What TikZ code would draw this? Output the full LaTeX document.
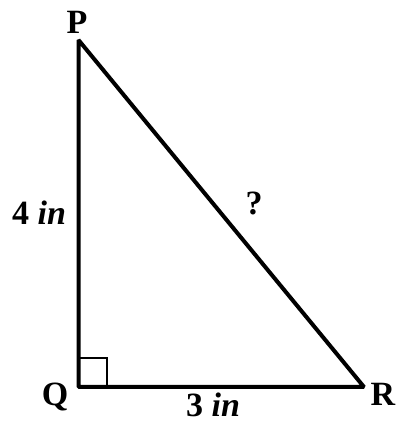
\documentclass[tikz,border=0pt]{standalone}
\usepackage{fontspec}
\setmainfont{Liberation Serif}
\begin{document}
\begin{tikzpicture}[x=1pt,y=1pt,
  lbl/.style={font=\fontsize{34}{34}\selectfont\bfseries, inner sep=0pt, anchor=base},
  side/.style={line width=4pt, line join=bevel},
  ra/.style={line width=2pt}]
\useasboundingbox (0,0) rectangle (408,443);
\coordinate (P) at (78.5,403);
\coordinate (Q) at (78.5,56);
\coordinate (R) at (364,56);
\coordinate (S) at (107,84.5);
\draw[ra] (Q) rectangle (S);
\draw[side] (P) -- (Q) -- (R) -- cycle;
\node[lbl] (lP) at (77,409) {P};
\node[lbl] (lQ) at (55,37) {Q};
\node[lbl] (lR) at (383,37) {R};
\node[lbl] (l3) at (213,26) {3 \textit{in}};
\node[lbl] (l4) at (39,218) {4 \textit{in}};
\node[lbl] (lq) at (254,228) {?};
\end{tikzpicture}
\end{document}
